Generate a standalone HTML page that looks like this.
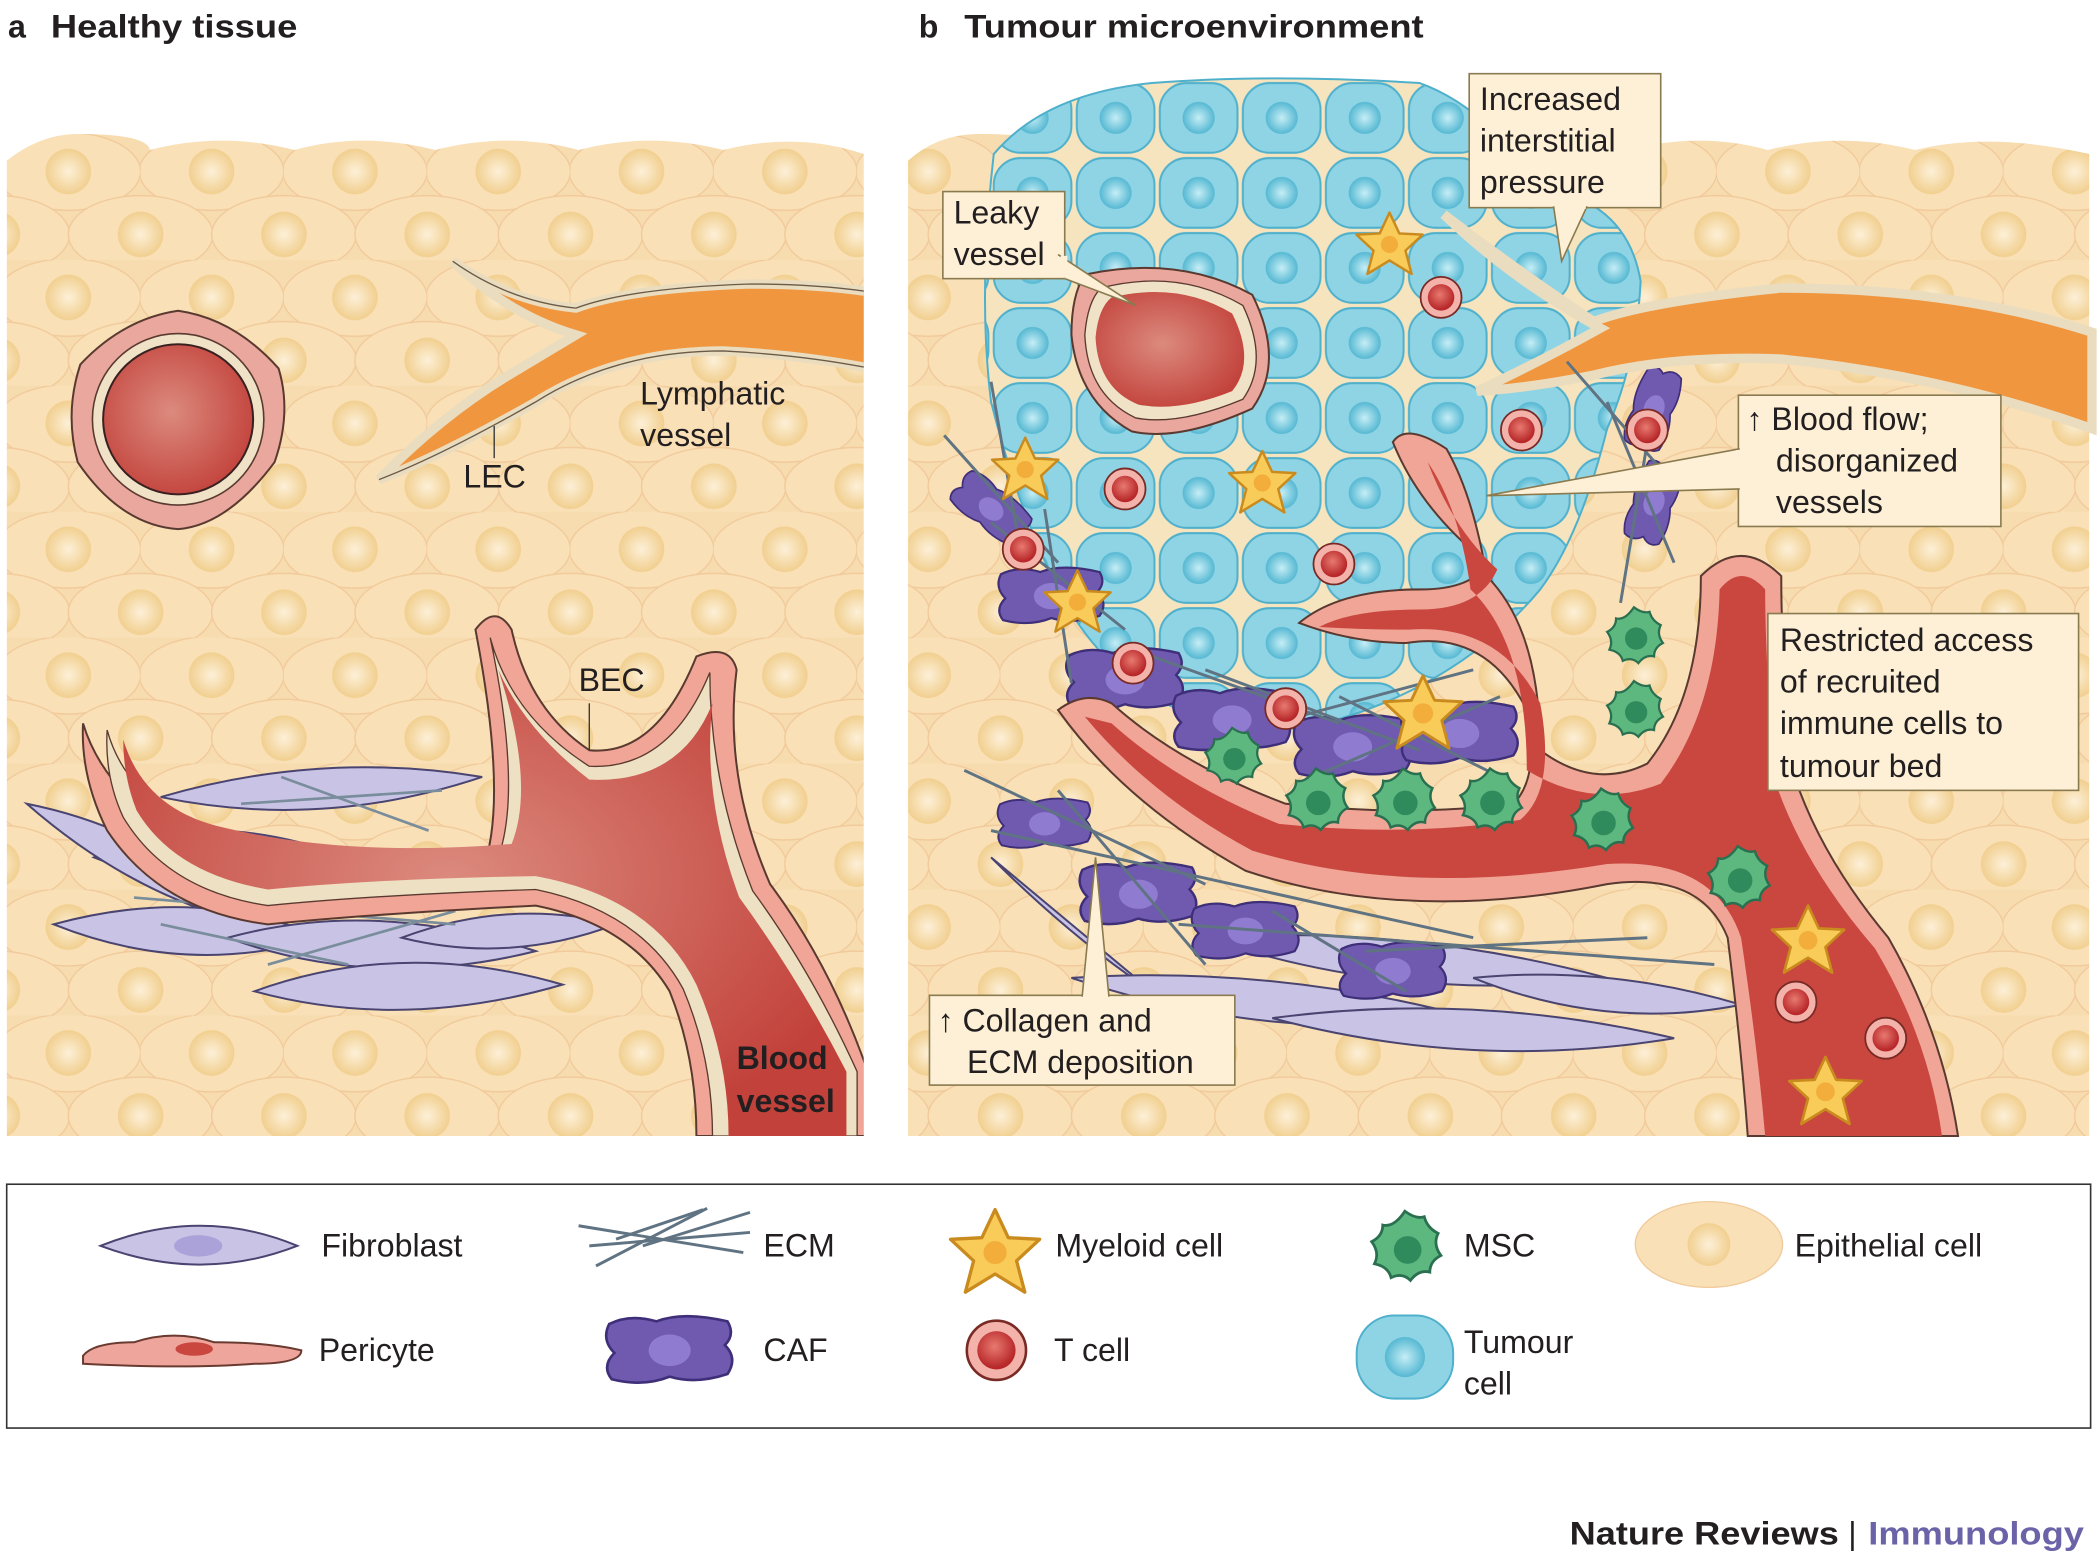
<!DOCTYPE html>
<html><head><meta charset="utf-8"><style>
html,body{margin:0;padding:0;background:#fff}
svg{display:block}
text{font-family:"Liberation Sans",sans-serif;fill:#231f20}
</style></head><body>
<svg width="2100" height="1562" viewBox="0 0 1568 1166" preserveAspectRatio="none" xmlns="http://www.w3.org/2000/svg">
<defs>
<radialGradient id="nuc" cx="50%" cy="50%" r="50%"><stop offset="0" stop-color="#fdf0d8"/><stop offset="1" stop-color="#f1cf8f"/></radialGradient>
<radialGradient id="bnuc" cx="50%" cy="50%" r="50%"><stop offset="0" stop-color="#c6eef6"/><stop offset="1" stop-color="#55b8d2"/></radialGradient>
<radialGradient id="red" cx="45%" cy="45%" r="60%"><stop offset="0" stop-color="#dc8a7e"/><stop offset="1" stop-color="#c2423b"/></radialGradient>
<radialGradient id="tc" cx="45%" cy="40%" r="55%"><stop offset="0" stop-color="#e87a70"/><stop offset="1" stop-color="#b8282a"/></radialGradient>
<pattern id="epi" width="107" height="94" patternUnits="userSpaceOnUse" x="-2" y="100">
<rect width="107" height="94" fill="#f7dcb0"/>
<ellipse cx="53" cy="28" rx="54" ry="29" fill="#f9e0b6" stroke="#f1c99a" stroke-width="1"/>
<ellipse cx="0" cy="75" rx="54" ry="29" fill="#f9e0b6" stroke="#f1c99a" stroke-width="1"/>
<ellipse cx="107" cy="75" rx="54" ry="29" fill="#f9e0b6" stroke="#f1c99a" stroke-width="1"/>
<circle cx="53" cy="28" r="17" fill="url(#nuc)"/>
<circle cx="0" cy="75" r="17" fill="url(#nuc)"/>
<circle cx="107" cy="75" r="17" fill="url(#nuc)"/>
</pattern>
<pattern id="tum" width="62" height="56" patternUnits="userSpaceOnUse" x="740" y="60">
<rect width="62" height="56" fill="#f6e4bf"/>
<rect x="2" y="2" width="58" height="52" rx="20" fill="#8fd4e5" stroke="#4fb0cc" stroke-width="1.5"/>
<circle cx="31" cy="28" r="12" fill="url(#bnuc)"/>
</pattern>
<clipPath id="ca"><path d="M5,848 V120 Q30,100 58,100 Q110,100 112,112 Q165,98 220,112 Q270,98 325,112 Q380,98 432,112 Q485,98 540,112 Q595,98 645,115 V848 Z"/></clipPath>
<clipPath id="cb"><path d="M678,848 V120 Q700,100 731,100 Q785,100 785,112 Q840,98 892,112 Q945,98 1000,112 Q1055,98 1108,112 Q1162,98 1215,112 Q1270,98 1320,112 Q1375,98 1430,112 Q1485,98 1560,115 V848 Z"/></clipPath>
<symbol id="star" viewBox="-30 -30 60 60"><path d="M0,-26 L8,-9 L27,-8 L13,5 L18,24 L0,13 L-18,24 L-13,5 L-27,-8 L-8,-9 Z" fill="#f9cb58" stroke="#c98a1e" stroke-width="2" stroke-linejoin="round"/><circle r="7" fill="#f3ad3a"/></symbol>
<symbol id="tcell" viewBox="-20 -20 40 40"><circle r="17" fill="#f3b3ab" stroke="#7a2a25" stroke-width="1.5"/><circle r="11" fill="url(#tc)"/></symbol>
<symbol id="msc" viewBox="-30 -30 60 60"><path d="M0,-26 Q8,-20 14,-22 Q16,-14 24,-10 Q20,-2 26,6 Q18,10 18,18 Q10,16 4,24 Q-2,18 -10,22 Q-12,14 -22,12 Q-18,4 -24,-4 Q-16,-8 -16,-16 Q-8,-14 0,-26 Z" fill="#5db880" stroke="#2a7050" stroke-width="2"/><circle cx="2" cy="2" r="10" fill="#2f8a5c"/></symbol>
<symbol id="caf" viewBox="-55 -30 110 60"><path d="M-46,-20 Q-30,-28 -10,-22 Q10,-30 44,-22 Q50,-12 42,-4 Q52,6 44,18 Q20,26 0,20 Q-20,28 -44,22 Q-52,12 -42,2 Q-52,-8 -46,-20 Z" fill="#6f5ab0" stroke="#3e2f78" stroke-width="2"/><ellipse cx="0" cy="0" rx="16" ry="12" fill="#8f7cd0"/></symbol>
</defs>

<text x="6" y="28" font-size="24" font-weight="bold">a</text>
<text x="38" y="28" font-size="24" font-weight="bold" textLength="184" lengthAdjust="spacingAndGlyphs">Healthy tissue</text>
<text x="686" y="28" font-size="24" font-weight="bold">b</text>
<text x="720" y="28" font-size="24" font-weight="bold" textLength="343" lengthAdjust="spacingAndGlyphs">Tumour microenvironment</text>

<g clip-path="url(#ca)">
<rect x="0" y="90" width="650" height="760" fill="url(#epi)"/>
<g fill="#c9c4e6" stroke="#4a4470" stroke-width="1.5">
<path d="M70,640 Q150,600 260,640 Q170,680 70,640 Z"/>
<path d="M20,600 Q120,620 190,690 Q100,670 20,600 Z"/>
<path d="M40,690 Q150,660 240,700 Q140,730 40,690 Z"/>
<path d="M170,700 Q280,670 400,710 Q280,740 170,700 Z"/>
<path d="M190,740 Q300,700 420,735 Q300,770 190,740 Z"/>
<path d="M300,700 Q380,670 460,690 Q380,720 300,700 Z"/>
<path d="M120,595 Q240,560 360,580 Q240,620 120,595 Z"/>
</g>
<g stroke="#7a8d9c" stroke-width="2"><line x1="180" y1="600" x2="330" y2="590"/><line x1="210" y1="580" x2="320" y2="620"/><line x1="100" y1="670" x2="340" y2="690"/><line x1="120" y1="690" x2="260" y2="720"/><line x1="200" y1="720" x2="340" y2="680"/></g>
<path d="M338,195 Q380,225 430,230 Q470,215 560,212 Q610,212 650,218 L650,275 Q600,265 540,262 Q460,262 400,300 Q330,340 283,358 Q330,310 380,280 Q410,262 430,250 Q380,235 338,195 Z" fill="#f0963f" stroke="#eadcbf" stroke-width="7"/>
<path d="M338,195 Q380,225 430,230 Q470,215 560,212 Q610,212 650,218 M650,275 Q600,265 540,262 Q460,262 400,300 Q330,340 283,358" fill="none" stroke="#6a5a48" stroke-width="1"/>
<path d="M133,232 Q175,238 208,275 Q218,308 205,345 Q170,392 133,395 Q90,392 58,345 Q48,308 60,272 Q92,238 133,232 Z" fill="#eaa79d" stroke="#5a3a30" stroke-width="1.5"/>
<circle cx="133" cy="313" r="64" fill="#efe2c6" stroke="#5a3a30" stroke-width="1.2"/>
<circle cx="133" cy="313" r="56" fill="url(#red)" stroke="#3a2020" stroke-width="1.5"/>
<path d="M62,540 Q80,600 160,640 Q260,665 360,650 Q380,600 355,470 Q370,450 382,470 Q395,530 440,560 Q490,565 520,490 Q545,480 550,500 Q540,580 575,660 Q620,720 648,800 L648,848 L520,848 Q520,790 500,740 Q470,690 400,676 Q280,682 200,690 Q120,680 80,620 Q60,580 62,540 Z" fill="#f0a596" stroke="#5a3a30" stroke-width="1.5"/>
<path d="M80,545 Q95,600 165,628 Q260,650 372,640 Q390,590 366,476 Q382,535 440,572 Q500,575 530,502 Q530,585 562,665 Q606,725 640,800 L640,848 L532,848 Q532,790 510,738 Q478,680 400,664 Q280,668 200,676 Q125,665 92,610 Q78,580 80,545 Z" fill="#eee0c2" stroke="#5a3a30" stroke-width="1"/>
<path d="M92,552 Q108,605 168,618 Q260,640 382,630 Q400,585 372,500 Q392,545 440,582 Q508,585 532,525 Q524,595 552,670 Q596,730 632,800 L632,848 L544,848 Q544,790 520,735 Q488,670 400,654 Q280,656 200,664 Q130,652 102,605 Q92,580 92,552 Z" fill="url(#red)"/>
</g>
<text x="478" y="302" font-size="24">Lymphatic</text>
<text x="478" y="333" font-size="24">vessel</text>
<line x1="369" y1="318" x2="369" y2="342" stroke="#333" stroke-width="1"/>
<text x="346" y="364" font-size="24">LEC</text>
<line x1="440" y1="525" x2="440" y2="560" stroke="#333" stroke-width="1"/>
<text x="432" y="516" font-size="24">BEC</text>
<text x="550" y="798" font-size="24" font-weight="bold">Blood</text>
<text x="550" y="830" font-size="24" font-weight="bold">vessel</text>

<g clip-path="url(#cb)">
<rect x="670" y="90" width="900" height="760" fill="url(#epi)"/>
</g>
<path d="M742,115 Q780,70 860,62 Q950,55 1060,62 Q1110,80 1150,140 Q1215,150 1225,210 Q1222,270 1200,320 Q1180,400 1150,440 Q1100,500 1020,530 Q940,560 880,530 Q820,500 790,440 Q760,380 740,300 Q730,220 742,115 Z" fill="url(#tum)" stroke="#4fb0cc" stroke-width="1.5"/>
<g fill="#c9c4e6" stroke="#4a4470" stroke-width="1.5">
<path d="M740,640 Q800,700 860,740 Q800,690 740,640 Z"/>
<path d="M800,730 Q950,720 1100,760 Q950,780 800,730 Z"/>
<path d="M950,760 Q1100,740 1250,775 Q1100,800 950,760 Z"/>
<path d="M900,700 Q1050,690 1200,730 Q1050,750 900,700 Z"/>
<path d="M1100,730 Q1200,720 1300,750 Q1200,770 1100,730 Z"/>
</g>
<use href="#caf" x="705" y="360" width="70" height="40" transform="rotate(40 740 380)"/>
<use href="#caf" x="740" y="420" width="90" height="50"/>
<use href="#caf" x="790" y="480" width="100" height="55"/>
<use href="#caf" x="870" y="510" width="100" height="55"/>
<use href="#caf" x="960" y="530" width="100" height="55"/>
<use href="#caf" x="1040" y="520" width="100" height="55"/>
<use href="#caf" x="740" y="590" width="80" height="50"/>
<use href="#caf" x="800" y="640" width="100" height="55"/>
<use href="#caf" x="880" y="670" width="100" height="50"/>
<use href="#caf" x="980" y="700" width="120" height="50"/>
<use href="#caf" x="1200" y="280" width="70" height="50" transform="rotate(-70 1235 305)"/>
<use href="#caf" x="1200" y="350" width="70" height="50" transform="rotate(-70 1235 375)"/>
<path d="M1078,160 Q1130,200 1190,240 Q1230,225 1330,215 Q1460,215 1562,248 L1562,320 Q1450,280 1330,268 Q1250,265 1190,280 Q1140,290 1103,292 Q1150,270 1195,245 Q1130,210 1078,160 Z" fill="#f0963f" stroke="#eadcbf" stroke-width="7"/>
<path d="M810,205 Q880,190 935,220 Q960,270 935,305 Q880,330 845,322 Q805,300 800,250 Q800,220 810,205 Z" fill="#eaa79d" stroke="#5a3a30" stroke-width="1.5"/>
<path d="M822,215 Q880,200 928,228 Q948,270 928,298 Q880,318 848,312 Q812,295 810,250 Q812,225 822,215 Z" fill="#efe2c6" stroke="#5a3a30" stroke-width="1"/>
<path d="M830,222 Q880,210 920,234 Q938,270 920,292 Q880,308 850,302 Q820,290 818,252 Q820,230 830,222 Z" fill="url(#red)"/>
<path d="M790,530 Q840,600 930,650 Q1050,690 1200,660 Q1270,650 1290,700 Q1300,780 1305,848 L1462,848 Q1450,770 1410,700 Q1360,640 1340,580 Q1330,500 1330,430 Q1300,400 1270,430 Q1270,520 1230,570 Q1190,590 1150,560 Q1150,470 1110,430 Q1100,370 1080,335 Q1050,315 1040,330 Q1060,380 1110,420 Q1100,440 1060,440 Q1000,440 970,465 Q1010,480 1050,480 Q1110,470 1140,530 Q1150,580 1130,600 Q1050,610 960,600 Q880,570 830,525 Q810,515 790,530 Z" fill="#f0a596" stroke="#5a3a30" stroke-width="1.5"/>
<path d="M810,535 Q860,595 935,635 Q1050,670 1200,645 Q1280,640 1300,700 Q1312,780 1318,848 L1450,848 Q1440,775 1400,708 Q1348,648 1326,585 Q1318,500 1318,440 Q1300,420 1284,440 Q1282,530 1240,585 Q1190,605 1140,575 Q1140,480 1098,440 Q1090,380 1066,345 Q1085,395 1118,425 Q1105,455 1060,455 Q1010,455 985,468 Q1020,470 1052,470 Q1120,465 1150,525 Q1162,590 1135,612 Q1050,625 955,615 Q880,585 830,540 Z" fill="#c9473f"/>
<g stroke="#5f7383" stroke-width="2.2">
<line x1="705" y1="325" x2="790" y2="420"/><line x1="740" y1="285" x2="760" y2="400"/><line x1="740" y1="390" x2="840" y2="470"/><line x1="780" y1="380" x2="800" y2="510"/>
<line x1="860" y1="490" x2="1000" y2="540"/><line x1="900" y1="500" x2="1060" y2="560"/><line x1="950" y1="540" x2="1100" y2="500"/><line x1="980" y1="580" x2="1120" y2="520"/><line x1="1000" y1="520" x2="1120" y2="580"/>
<line x1="720" y1="575" x2="900" y2="660"/><line x1="740" y1="620" x2="1100" y2="700"/><line x1="790" y1="590" x2="900" y2="720"/><line x1="880" y1="690" x2="1280" y2="720"/><line x1="950" y1="680" x2="1050" y2="740"/><line x1="1020" y1="710" x2="1230" y2="700"/>
<line x1="1170" y1="270" x2="1240" y2="350"/><line x1="1200" y1="300" x2="1250" y2="420"/><line x1="1230" y1="330" x2="1210" y2="450"/>
</g>
<use href="#msc" x="895" y="540" width="50" height="50"/>
<use href="#msc" x="955" y="570" width="55" height="55"/>
<use href="#msc" x="1020" y="570" width="55" height="55"/>
<use href="#msc" x="1085" y="570" width="55" height="55"/>
<use href="#msc" x="1168" y="585" width="55" height="55"/>
<use href="#msc" x="1270" y="628" width="55" height="55"/>
<use href="#msc" x="1195" y="450" width="50" height="50"/>
<use href="#msc" x="1195" y="505" width="50" height="50"/>
<use href="#star" x="1010" y="155" width="55" height="55"/>
<use href="#star" x="738" y="323" width="55" height="55"/>
<use href="#star" x="915" y="333" width="55" height="55"/>
<use href="#star" x="777" y="422" width="55" height="55"/>
<use href="#star" x="1030" y="500" width="65" height="65"/>
<use href="#star" x="1320" y="672" width="60" height="60"/>
<use href="#star" x="1333" y="785" width="60" height="60"/>
<use href="#tcell" x="1058" y="204" width="36" height="36"/>
<use href="#tcell" x="1118" y="303" width="36" height="36"/>
<use href="#tcell" x="1212" y="303" width="36" height="36"/>
<use href="#tcell" x="822" y="347" width="36" height="36"/>
<use href="#tcell" x="746" y="392" width="36" height="36"/>
<use href="#tcell" x="978" y="403" width="36" height="36"/>
<use href="#tcell" x="828" y="477" width="36" height="36"/>
<use href="#tcell" x="942" y="511" width="36" height="36"/>
<use href="#tcell" x="1323" y="730" width="36" height="36"/>
<use href="#tcell" x="1390" y="757" width="36" height="36"/>

<g fill="#fdf0d6" stroke="#8a7a50" stroke-width="1.2">
<rect x="1097" y="55" width="143" height="100"/>
<path d="M1160,154 L1166,195 L1185,154"/>
<rect x="704" y="143" width="91" height="65"/>
<path d="M790,190 L848,228 L795,208"/>
<rect x="1298" y="295" width="196" height="98"/>
<path d="M1299,335 L1110,370 L1299,365"/>
<rect x="1320" y="458" width="232" height="132"/>
<rect x="694" y="743" width="228" height="67"/>
<path d="M808,744 L818,640 L828,744"/>
</g>
<g fill="#fdf0d6"><rect x="1161" y="150" width="23" height="6"/><rect x="792" y="191" width="5" height="16"/><rect x="1296" y="336" width="5" height="28"/><rect x="809" y="740" width="18" height="6"/></g>
<g font-size="24">
<text x="1105" y="82">Increased</text><text x="1105" y="113">interstitial</text><text x="1105" y="144">pressure</text>
<text x="712" y="167">Leaky</text><text x="712" y="198">vessel</text>
<text x="1304" y="321">↑ Blood flow;</text><text x="1326" y="352">disorganized</text><text x="1326" y="383">vessels</text>
<text x="1329" y="486">Restricted access</text><text x="1329" y="517">of recruited</text><text x="1329" y="548">immune cells to</text><text x="1329" y="580">tumour bed</text>
<text x="700" y="770">↑ Collagen and</text><text x="722" y="801">ECM deposition</text>
</g>

<rect x="5" y="884" width="1556" height="182" fill="#fff" stroke="#333" stroke-width="1.2"/>
<path d="M75,930 Q150,900 222,930 Q150,958 75,930 Z" fill="#c9c4e6" stroke="#4a4470" stroke-width="1.5"/>
<ellipse cx="148" cy="930" rx="18" ry="8" fill="#aaa2d8"/>
<path d="M62,1012 Q70,1002 100,1002 Q130,992 160,1002 Q200,1002 225,1008 Q225,1018 190,1018 Q140,1022 62,1018 Z" fill="#eea69c" stroke="#6a3a30" stroke-width="1.5"/>
<ellipse cx="145" cy="1007" rx="14" ry="5" fill="#c9473f"/>
<g stroke="#5f7383" stroke-width="2.2"><line x1="432" y1="915" x2="555" y2="935"/><line x1="440" y1="930" x2="560" y2="920"/><line x1="460" y1="925" x2="525" y2="903"/><line x1="480" y1="930" x2="560" y2="905"/><line x1="445" y1="945" x2="528" y2="902"/></g>
<use href="#caf" x="446" y="978" width="108" height="60"/>
<use href="#star" x="706" y="898" width="74" height="74"/>
<use href="#tcell" x="718" y="982" width="52" height="52"/>
<use href="#msc" x="1018" y="900" width="62" height="62"/>
<rect x="1013" y="982" width="72" height="62" rx="28" fill="#8fd4e5" stroke="#4fb0cc" stroke-width="1.5"/>
<circle cx="1049" cy="1013" r="15" fill="url(#bnuc)"/>
<ellipse cx="1276" cy="929" rx="55" ry="32" fill="#f9e0b6" stroke="#f1c99a"/>
<circle cx="1276" cy="929" r="16" fill="url(#nuc)"/>
<g font-size="24">
<text x="240" y="938">Fibroblast</text><text x="238" y="1016">Pericyte</text>
<text x="570" y="938">ECM</text><text x="570" y="1016">CAF</text>
<text x="788" y="938">Myeloid cell</text><text x="787" y="1016">T cell</text>
<text x="1093" y="938">MSC</text><text x="1093" y="1010">Tumour</text><text x="1093" y="1041">cell</text>
<text x="1340" y="938">Epithelial cell</text>
</g>
<text x="1172" y="1153" font-size="24" font-weight="bold" textLength="201" lengthAdjust="spacingAndGlyphs">Nature Reviews</text>
<text x="1380" y="1153" font-size="24">|</text>
<text x="1395" y="1153" font-size="24" font-weight="bold" style="fill:#6b63a8" textLength="161" lengthAdjust="spacingAndGlyphs">Immunology</text>
</svg>
</body></html>
